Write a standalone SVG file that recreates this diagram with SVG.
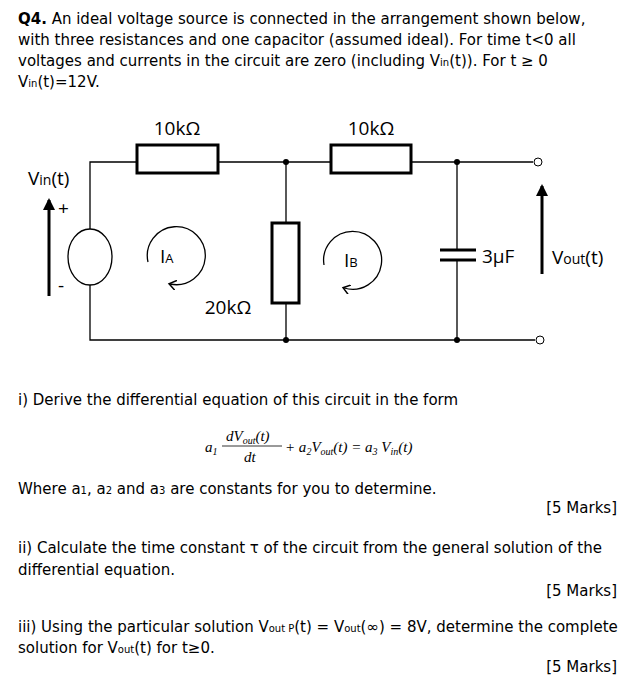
<svg xmlns="http://www.w3.org/2000/svg" width="636" height="687" viewBox="0 0 636 687">
<style>
.t{font-family:"DejaVu Sans",Verdana,sans-serif;font-size:15px;fill:#000}
.c{font-family:"Open Sans","Liberation Sans",sans-serif;font-size:19px;fill:#000}
.m{font-family:"Liberation Serif",serif;font-style:italic;font-size:15px;fill:#000}
.w{stroke:#000;stroke-width:1.3;fill:none}
.b{stroke:#000;stroke-width:3;fill:#fff}
.a{stroke:#000;stroke-width:3;fill:none}
</style>
<defs>
<marker id="ah" markerWidth="12" markerHeight="12" refX="3" refY="6" orient="auto" markerUnits="userSpaceOnUse"><path d="M0,0 L10,6 L0,12" fill="none" stroke="#000" stroke-width="2"/></marker>
<marker id="al" markerWidth="10" markerHeight="10" refX="6" refY="5" orient="auto" markerUnits="userSpaceOnUse"><path d="M0,0 L7,5 L0,10" fill="none" stroke="#000" stroke-width="1.5"/></marker>
</defs>
<rect width="636" height="687" fill="#fff"/>
<g id="text">
<text class="t" x="18" y="24"><tspan font-weight="bold">Q4.</tspan>  An ideal voltage source is connected in the arrangement shown below,</text>
<text class="t" x="18" y="45">with three resistances and one capacitor (assumed ideal). For time t&lt;0 all</text>
<text class="t" x="18" y="66">voltages and currents in the circuit are zero (including V<tspan font-size="10">in</tspan>(t)). For t ≥ 0</text>
<text class="t" x="18" y="87">V<tspan font-size="10">in</tspan>(t)=12V.</text>
<text class="t" x="18" y="405">i) Derive the differential equation of this circuit in the form</text>
<text class="m" x="205" y="452">a<tspan font-size="10" dy="3">1</tspan></text>
<text class="m" x="226" y="441">dV<tspan font-size="10" dy="3">out</tspan><tspan dy="-3">(t)</tspan></text>
<line x1="222" y1="446" x2="282" y2="446" stroke="#000" stroke-width="0.8"/>
<text class="m" x="244" y="462">dt</text>
<text class="m" x="285" y="452">+ a<tspan font-size="10" dy="3">2</tspan><tspan dy="-3">V</tspan><tspan font-size="10" dy="3">out</tspan><tspan dy="-3">(t) = a</tspan><tspan font-size="10" dy="3">3</tspan><tspan dy="-3"> V</tspan><tspan font-size="10" dy="3">in</tspan><tspan dy="-3">(t)</tspan></text>
<text class="t" x="18" y="494">Where a<tspan font-size="10">1</tspan>, a<tspan font-size="10">2</tspan> and a<tspan font-size="10">3</tspan> are constants for you to determine.</text>
<text class="t" x="617" y="513" text-anchor="end">[5 Marks]</text>
<text class="t" x="18" y="553">ii) Calculate the time constant τ of the circuit from the general solution of the</text>
<text class="t" x="18" y="575">differential equation.</text>
<text class="t" x="617" y="596" text-anchor="end">[5 Marks]</text>
<text class="t" x="18" y="632">iii) Using the particular solution V<tspan font-size="10">out P</tspan>(t) = V<tspan font-size="10">out</tspan>(∞) = 8V, determine the complete</text>
<text class="t" x="18" y="653">solution for V<tspan font-size="10">out</tspan>(t) for t≥0.</text>
<text class="t" x="617" y="672" text-anchor="end">[5 Marks]</text>
</g>
<g id="wires">
<path class="w" d="M90,229 V162 H137 M218,162 H331 M411,162 H533 M90,285 V340 H535 M286,162 V222 M286,303 V340 M457,162 V251 M457,259 V340"/>
</g>
<g id="R1"><rect class="b" x="137" y="145" width="81" height="28"/><text class="c" x="177" y="135" text-anchor="middle">10kΩ</text></g>
<g id="R2"><rect class="b" x="331" y="145" width="80" height="28"/><text class="c" x="371" y="135" text-anchor="middle">10kΩ</text></g>
<g id="R3"><rect class="b" x="272" y="223" width="27" height="80"/><text class="c" x="228" y="314" text-anchor="middle">20kΩ</text></g>
<g id="C"><line class="a" x1="440" y1="250" x2="476" y2="250"/><line class="a" x1="440" y1="260" x2="476" y2="260"/><text class="c" x="482" y="263">3μF</text></g>
<g id="Vs"><ellipse class="w" cx="90" cy="257" rx="22" ry="28" stroke-width="2"/>
<text class="c" x="28" y="185">V<tspan font-size="14">in</tspan>(t)</text>
<text class="c" x="58" y="215" font-size="17">+</text><text class="c" x="58" y="292" font-size="17">-</text>
<line class="a" x1="49" y1="296" x2="49" y2="200"/><path d="M43,210 L49,198 L55,210 Z"/></g>
<g id="nodes"><circle cx="286" cy="162" r="3"/><circle cx="457" cy="162" r="3"/><circle cx="286" cy="340" r="3"/><circle cx="457" cy="340" r="3"/>
<circle cx="538" cy="162" r="4" fill="#fff" stroke="#000"/><circle cx="540" cy="340" r="4" fill="#fff" stroke="#000"/></g>
<g id="Vout"><line class="a" x1="542" y1="274" x2="542" y2="186"/><path d="M536,196 L542,184 L548,196 Z"/><text class="c" x="552" y="264">V<tspan font-size="14">out</tspan>(t)</text></g>
<g id="loops">
<path class="w" d="M148,262 A29,29 0 1 1 170,284" stroke-width="1.5" marker-end="url(#al)"/>
<text class="c" x="160" y="263" font-family="Liberation Serif">I<tspan font-size="13">A</tspan></text>
<path class="w" d="M324,265 A29,29 0 1 1 344,288" stroke-width="1.5" marker-end="url(#al)"/>
<text class="c" x="344" y="267" font-family="Liberation Serif">I<tspan font-size="13">B</tspan></text>
</g>
</svg>
